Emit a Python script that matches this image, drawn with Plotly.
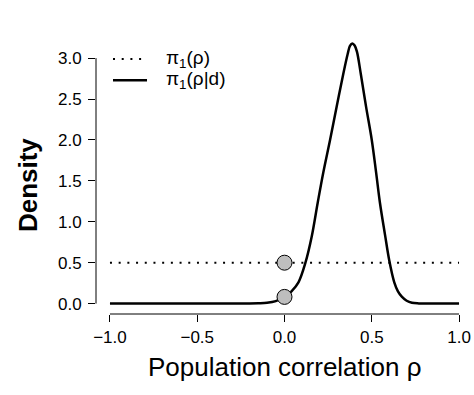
import plotly.graph_objects as go

# Posterior density
rho = [-1.0, -0.6, -0.4, -0.3, -0.2, -0.15, -0.1, -0.05, 0.0, 0.04, 0.08, 0.12,
       0.156, 0.19, 0.222, 0.261, 0.299, 0.337, 0.362, 0.375, 0.389, 0.402,
       0.415, 0.437, 0.467, 0.5, 0.525, 0.547, 0.576, 0.6, 0.629, 0.65, 0.672,
       0.7, 0.73, 0.77, 0.82, 1.0]
posterior = [0, 0, 0, 0.0005, 0.0015, 0.004, 0.01, 0.03, 0.08, 0.15, 0.26, 0.5,
             0.82, 1.23, 1.6, 2.0, 2.41, 2.81, 3.05, 3.15, 3.18, 3.155,
             3.08, 2.81, 2.41, 2.0, 1.6, 1.23, 0.84, 0.53, 0.26, 0.15, 0.085,
             0.035, 0.01, 0.002, 0, 0]

prior_x = [-1.0, 1.0]
prior_y = [0.5, 0.5]

point_x = [0.0, 0.0]
point_y = [0.5, 0.082]

x_ticks = [-1.0, -0.5, 0.0, 0.5, 1.0]
x_ticklabels = ["\u22121.0", "\u22120.5", "0.0", "0.5", "1.0"]
y_ticks = [0.0, 0.5, 1.0, 1.5, 2.0, 2.5, 3.0]
y_ticklabels = ["0.0", "0.5", "1.0", "1.5", "2.0", "2.5", "3.0"]

FONT = "Liberation Sans, Arial, Helvetica, sans-serif"

fig = go.Figure()
fig.add_trace(go.Scatter(x=prior_x, y=prior_y, mode="lines",
                         line=dict(color="black", width=2, dash="2px,6.7px"),
                         hoverinfo="skip", showlegend=False))
fig.add_trace(go.Scatter(x=rho, y=posterior, mode="lines",
                         line=dict(color="black", width=2.5, shape="spline", smoothing=1.0),
                         showlegend=False))
fig.add_trace(go.Scatter(x=point_x, y=point_y, mode="markers",
                         marker=dict(size=15, color="#BEBEBE", line=dict(color="black", width=1)),
                         showlegend=False))

# R-style axis lines spanning first to last tick
shapes = [
    dict(type="line", xref="paper", yref="y", x0=0, x1=0, y0=0, y1=3.0,
         line=dict(color="black", width=1)),
    dict(type="line", xref="x", yref="paper", x0=-1.0, x1=1.0, y0=0, y1=0,
         line=dict(color="black", width=1)),
    # legend samples
    dict(type="line", xref="paper", yref="paper", x0=0.0451, x1=0.1353, y0=0.9078, y1=0.9078,
         line=dict(color="black", width=2, dash="2px,6.7px")),
    dict(type="line", xref="paper", yref="paper", x0=0.0451, x1=0.1353, y0=0.8317, y1=0.8317,
         line=dict(color="black", width=2.5)),
]

annotations = [
    dict(text="\u03c0<sub>1</sub>(\u03c1)", xref="paper", yref="paper", x=0.181, y=0.9078,
         xanchor="left", yanchor="middle", showarrow=False, font=dict(size=19, color="black", family=FONT)),
    dict(text="\u03c0<sub>1</sub>(\u03c1|d)", xref="paper", yref="paper", x=0.181, y=0.8317,
         xanchor="left", yanchor="middle", showarrow=False, font=dict(size=19, color="black", family=FONT)),
    dict(text="Population correlation \u03c1", xref="x", yref="paper", x=0.0, y=(314.4 - 367) / 281,
         xanchor="center", yanchor="middle", showarrow=False, font=dict(size=26, color="black", family=FONT)),
    dict(text="<b>Density</b>", xref="paper", yref="paper", x=(27.5 - 96) / 377, y=(314.4 - 186) / 281,
         xanchor="center", yanchor="middle", textangle=-90, showarrow=False,
         font=dict(size=26, color="black", family=FONT)),
]

fig.update_layout(
    template="none",
    width=474, height=395,
    margin=dict(l=96, r=1, t=33, b=81, autoexpand=False),
    paper_bgcolor="white", plot_bgcolor="white",
    font=dict(family=FONT, color="black"),
    shapes=shapes, annotations=annotations,
    xaxis=dict(range=[-1.08, 1.08], tickvals=x_ticks, ticktext=x_ticklabels,
               ticks="outside", ticklen=7, tickwidth=1, tickcolor="black",
               showgrid=False, zeroline=False, showline=False, automargin=False,
               ticklabelstandoff=1,
               tickfont=dict(size=17, color="black", family=FONT)),
    yaxis=dict(range=[-0.127, 3.307], tickvals=y_ticks, ticktext=y_ticklabels,
               ticks="outside", ticklen=7, tickwidth=1, tickcolor="black",
               showgrid=False, zeroline=False, showline=False, automargin=False,
               ticklabelstandoff=3,
               tickfont=dict(size=17, color="black", family=FONT)),
)

fig.write_html("out.html",
               config={"displayModeBar": False},
               post_script="document.body.style.margin='0';document.body.style.padding='0';document.body.style.overflow='hidden';")
